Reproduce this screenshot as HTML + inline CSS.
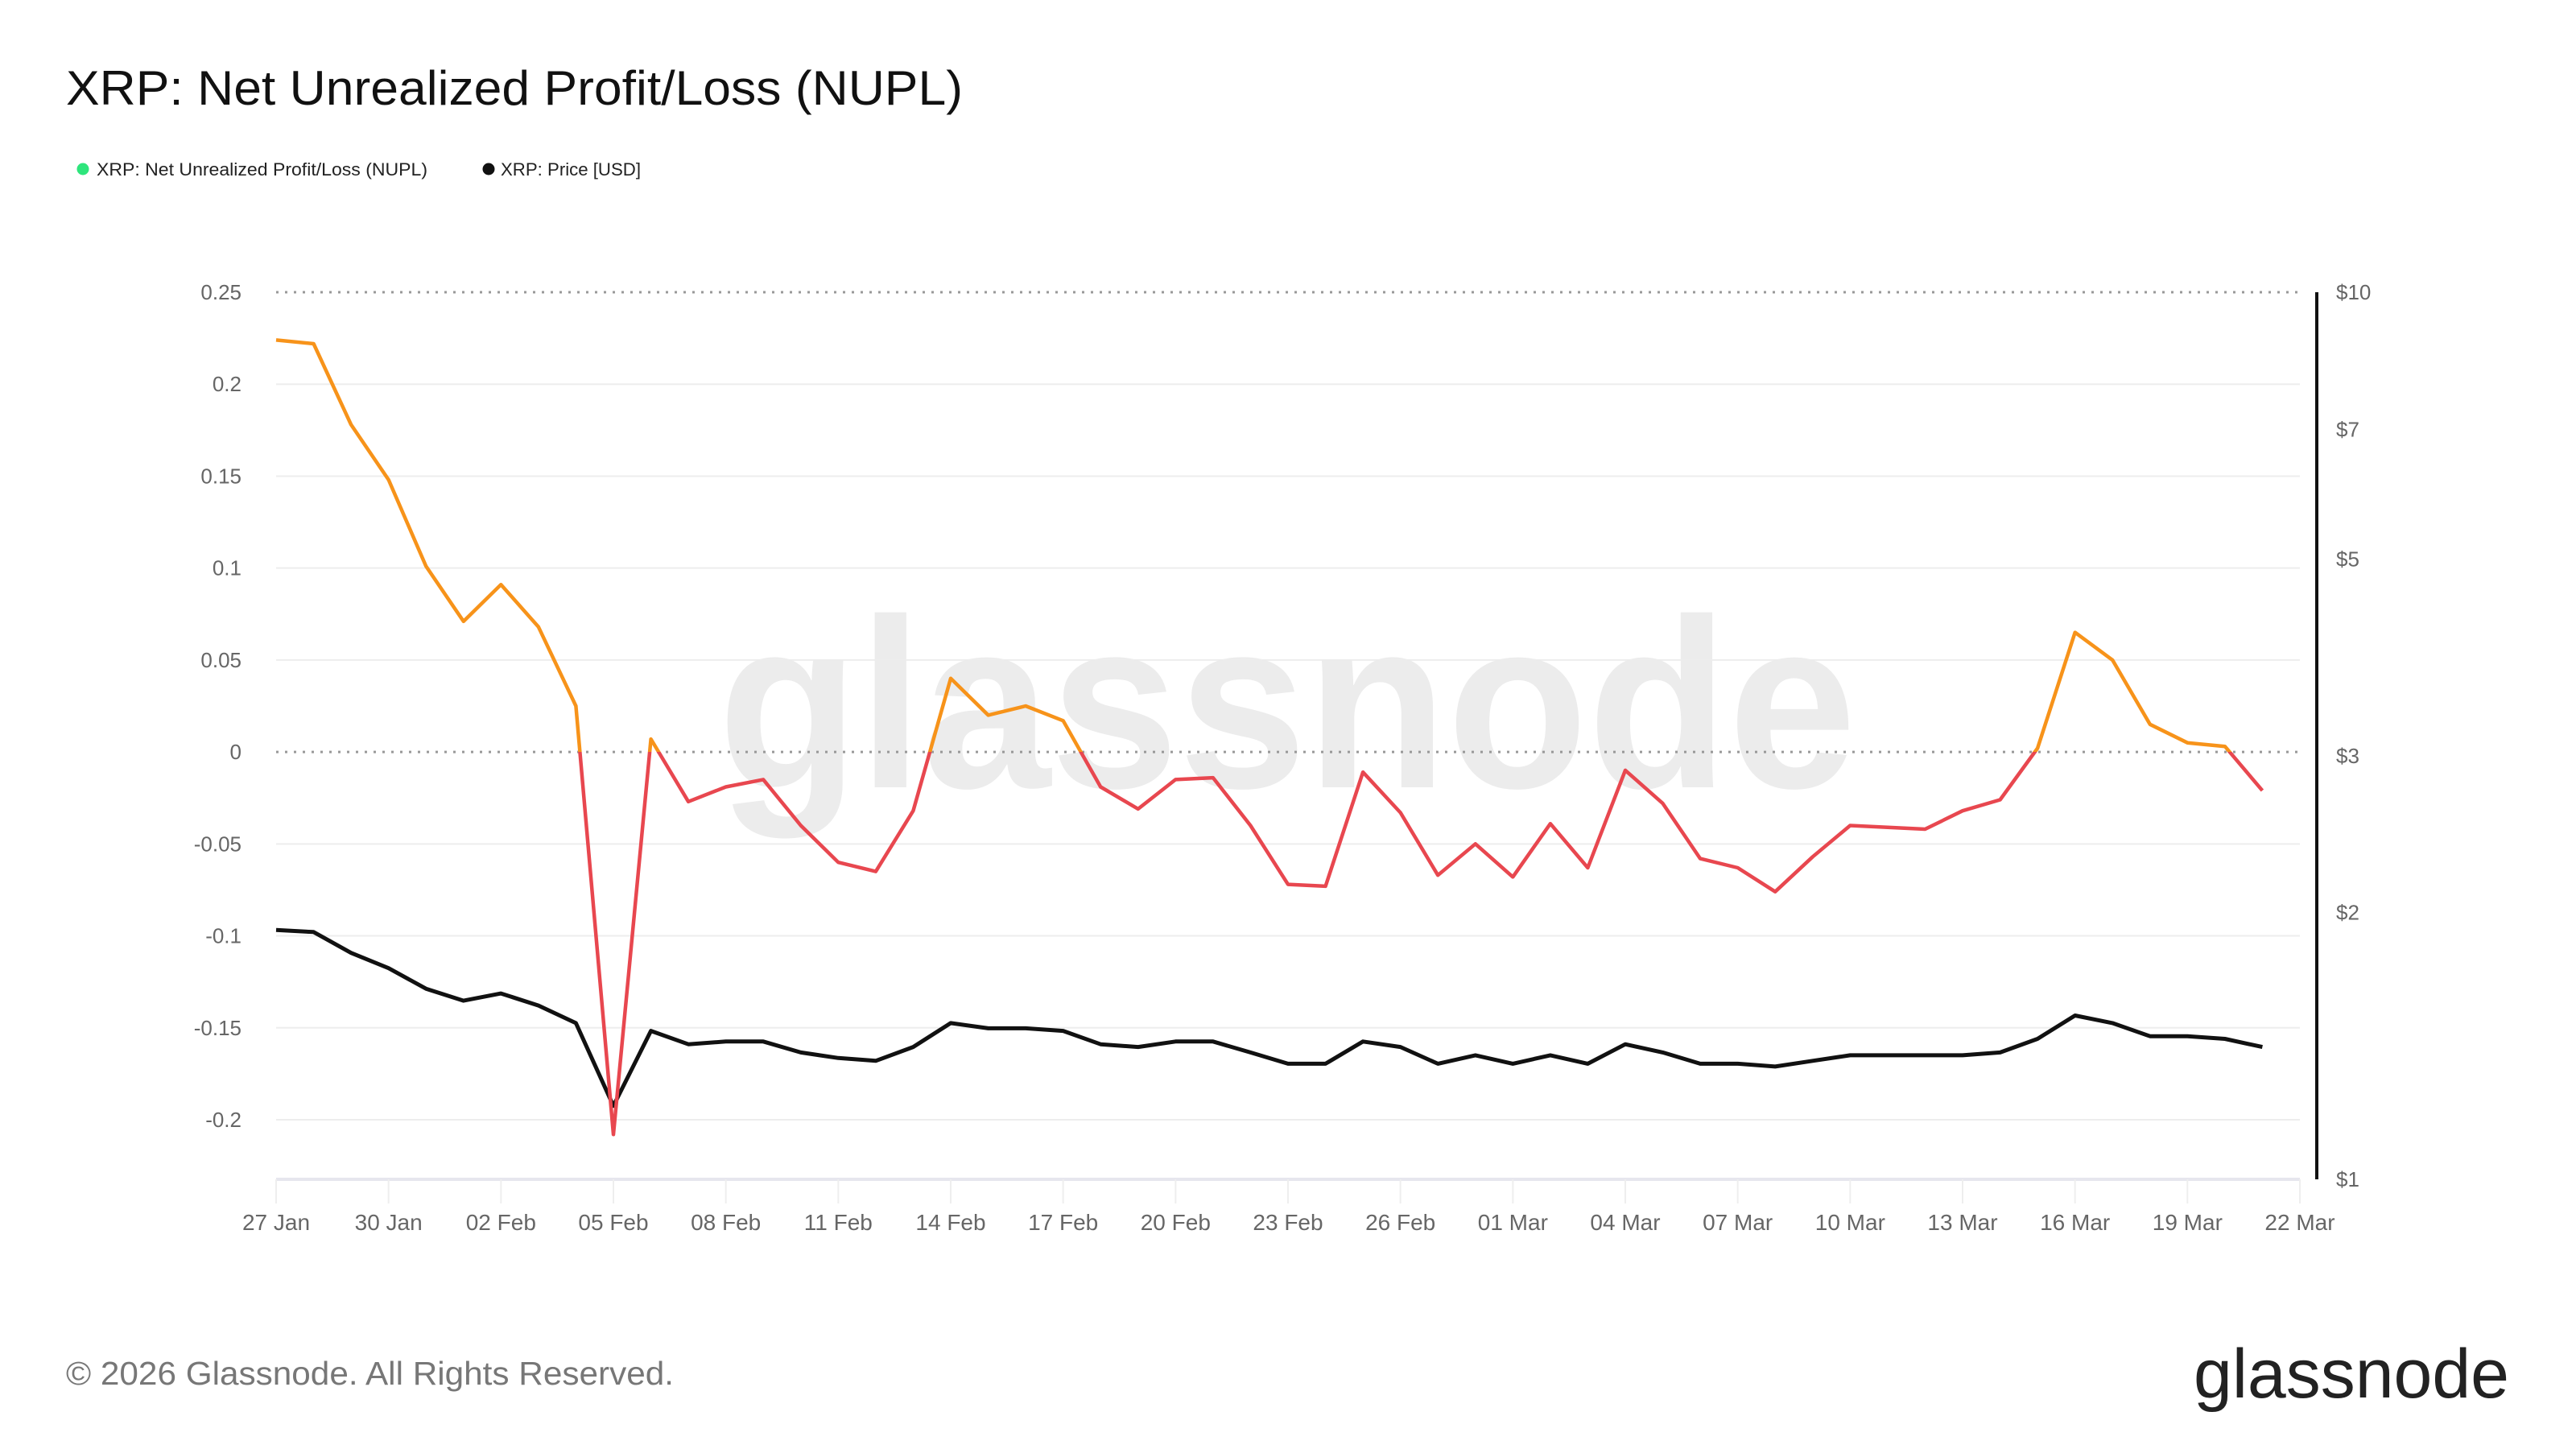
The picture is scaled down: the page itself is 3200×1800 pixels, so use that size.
<!DOCTYPE html>
<html><head><meta charset="utf-8"><style>
html,body{margin:0;padding:0;background:#fff;}
svg{display:block;font-family:"Liberation Sans",sans-serif;}
</style></head><body>
<svg id="chart" width="3200" height="1800" viewBox="0 0 3200 1800">
<defs>
<linearGradient id="nuplGrad" gradientUnits="userSpaceOnUse" x1="0" y1="363" x2="0" y2="1465">
<stop id="gs1" offset="0.52" stop-color="#f7931a"/><stop id="gs2" offset="0.52" stop-color="#e8474f"/>
</linearGradient>
</defs>
<text x="82" y="130" font-size="60" fill="#111" textLength="1114" lengthAdjust="spacingAndGlyphs">XRP: Net Unrealized Profit/Loss (NUPL)</text>
<g>
<g><circle cx="103" cy="210" r="7.5" fill="#2ee57c"/><text x="120" y="218" font-size="22" fill="#222" textLength="411" lengthAdjust="spacingAndGlyphs">XRP: Net Unrealized Profit/Loss (NUPL)</text></g>
<g><circle cx="607" cy="210" r="7.5" fill="#111"/><text x="622" y="218" font-size="22" fill="#222" textLength="174" lengthAdjust="spacingAndGlyphs">XRP: Price [USD]</text></g>
</g>
<text x="1599" y="978" font-size="300" font-weight="bold" fill="#ececec" text-anchor="middle" textLength="1414" lengthAdjust="spacingAndGlyphs">glassnode</text>
<g id="grid"></g>
<g id="yaxis"></g>
<g id="yaxis2"></g>
<g id="xaxis"></g>
<g id="series"></g>
<text x="82" y="1720" font-size="41" fill="#777" textLength="755" lengthAdjust="spacingAndGlyphs">© 2026 Glassnode. All Rights Reserved.</text>
<text x="3117" y="1736" font-size="86" fill="#222" text-anchor="end" textLength="392" lengthAdjust="spacingAndGlyphs">glassnode</text>
</svg>
<script>
const startDate = "2026-01-27";
const nupl = [0.224,0.222,0.178,0.148,0.101,0.071,0.091,0.068,0.025,-0.208,0.007,-0.027,-0.019,-0.015,-0.040,-0.060,-0.065,-0.032,0.040,0.020,0.025,0.017,-0.019,-0.031,-0.015,-0.014,-0.040,-0.072,-0.073,-0.011,-0.033,-0.067,-0.050,-0.068,-0.039,-0.063,-0.010,-0.028,-0.058,-0.063,-0.076,-0.057,-0.040,-0.041,-0.042,-0.032,-0.026,0.002,0.065,0.050,0.015,0.005,0.003,-0.021];
const price = [1.91,1.90,1.80,1.73,1.64,1.59,1.62,1.57,1.50,1.21,1.47,1.42,1.43,1.43,1.39,1.37,1.36,1.41,1.50,1.48,1.48,1.47,1.42,1.41,1.43,1.43,1.39,1.35,1.35,1.43,1.41,1.35,1.38,1.35,1.38,1.35,1.42,1.39,1.35,1.35,1.34,1.36,1.38,1.38,1.38,1.38,1.39,1.44,1.53,1.50,1.45,1.45,1.44,1.41];
const leftTicks = [0.25,0.2,0.15,0.1,0.05,0,-0.05,-0.1,-0.15,-0.2];
const leftTickLabels = ["0.25","0.2","0.15","0.1","0.05","0","-0.05","-0.1","-0.15","-0.2"];
const rightTicks = [10,7,5,3,2,1];
const rightTickLabels = ["$10","$7","$5","$3","$2","$1"];
const xTickDays = [0,3,6,9,12,15,18,21,24,27,30,33,36,39,42,45,48,51,54];
const xTickLabels = ["27 Jan","30 Jan","02 Feb","05 Feb","08 Feb","11 Feb","14 Feb","17 Feb","20 Feb","23 Feb","26 Feb","01 Mar","04 Mar","07 Mar","10 Mar","13 Mar","16 Mar","19 Mar","22 Mar"];

const NS="http://www.w3.org/2000/svg";
const X0=343,X1=2857,TOP=363,BOT=1465,Y0v=0.25,Y1v=-0.2324;
const xs=d=>X0+(X1-X0)*d/54;
const yL=v=>TOP+(Y0v-v)/(Y0v-Y1v)*(BOT-TOP);
const yR=p=>BOT-Math.log10(p)*(BOT-TOP);
function mk(t,a,parent){const e=document.createElementNS(NS,t);for(const k in a)e.setAttribute(k,a[k]);parent.appendChild(e);return e;}
const grid=document.getElementById('grid'),ya=document.getElementById('yaxis'),yb=document.getElementById('yaxis2'),xa=document.getElementById('xaxis'),ser=document.getElementById('series');
const z=(yL(0)-TOP)/(BOT-TOP);
document.getElementById('gs1').setAttribute('offset',z);document.getElementById('gs2').setAttribute('offset',z);
leftTicks.forEach((v,i)=>{
  const y=yL(v);const dotted=(v===0||v===0.25);
  const l=mk('line',{x1:X0,x2:X1,y1:y,y2:y,stroke:dotted?'#999':'#ededed','stroke-width':dotted?3:2,'stroke-dasharray':dotted?'3 8':'none'},grid);
  
  
  const t=mk('text',{x:300,y:y+9,'font-size':26,fill:'#666','text-anchor':'end'},ya);t.textContent=leftTickLabels[i];
  
  
});
const bl=mk('line',{x1:X0,x2:X1,y1:BOT,y2:BOT,stroke:'#e6e6ee','stroke-width':4},grid);


const ra=mk('line',{x1:2878,x2:2878,y1:TOP,y2:BOT,stroke:'#111','stroke-width':4},yb);


rightTicks.forEach((p,i)=>{
  const t=mk('text',{x:2902,y:yR(p)+9,'font-size':26,fill:'#666'},yb);t.textContent=rightTickLabels[i];
  
  
});
xTickDays.forEach((d,i)=>{
  const x=xs(d);
  const tk=mk('line',{x1:x,x2:x,y1:BOT,y2:BOT+30,stroke:'#eee','stroke-width':2},xa);
  
  
  const t=mk('text',{x:x,y:1528,'font-size':28,fill:'#666','text-anchor':'middle'},xa);t.textContent=xTickLabels[i];
  
  
});
const pp=price.map((p,i)=>xs(i).toFixed(1)+','+yR(p).toFixed(1)).join(' ');
const pl=mk('polyline',{points:pp,fill:'none',stroke:'#111','stroke-width':5,'stroke-linejoin':'round'},ser);


const np=nupl.map((v,i)=>xs(i).toFixed(1)+','+yL(v).toFixed(1)).join(' ');
const nl=mk('polyline',{points:np,fill:'none',stroke:'url(#nuplGrad)','stroke-width':4.5,'stroke-linejoin':'round'},ser);


</script>
</body></html>
